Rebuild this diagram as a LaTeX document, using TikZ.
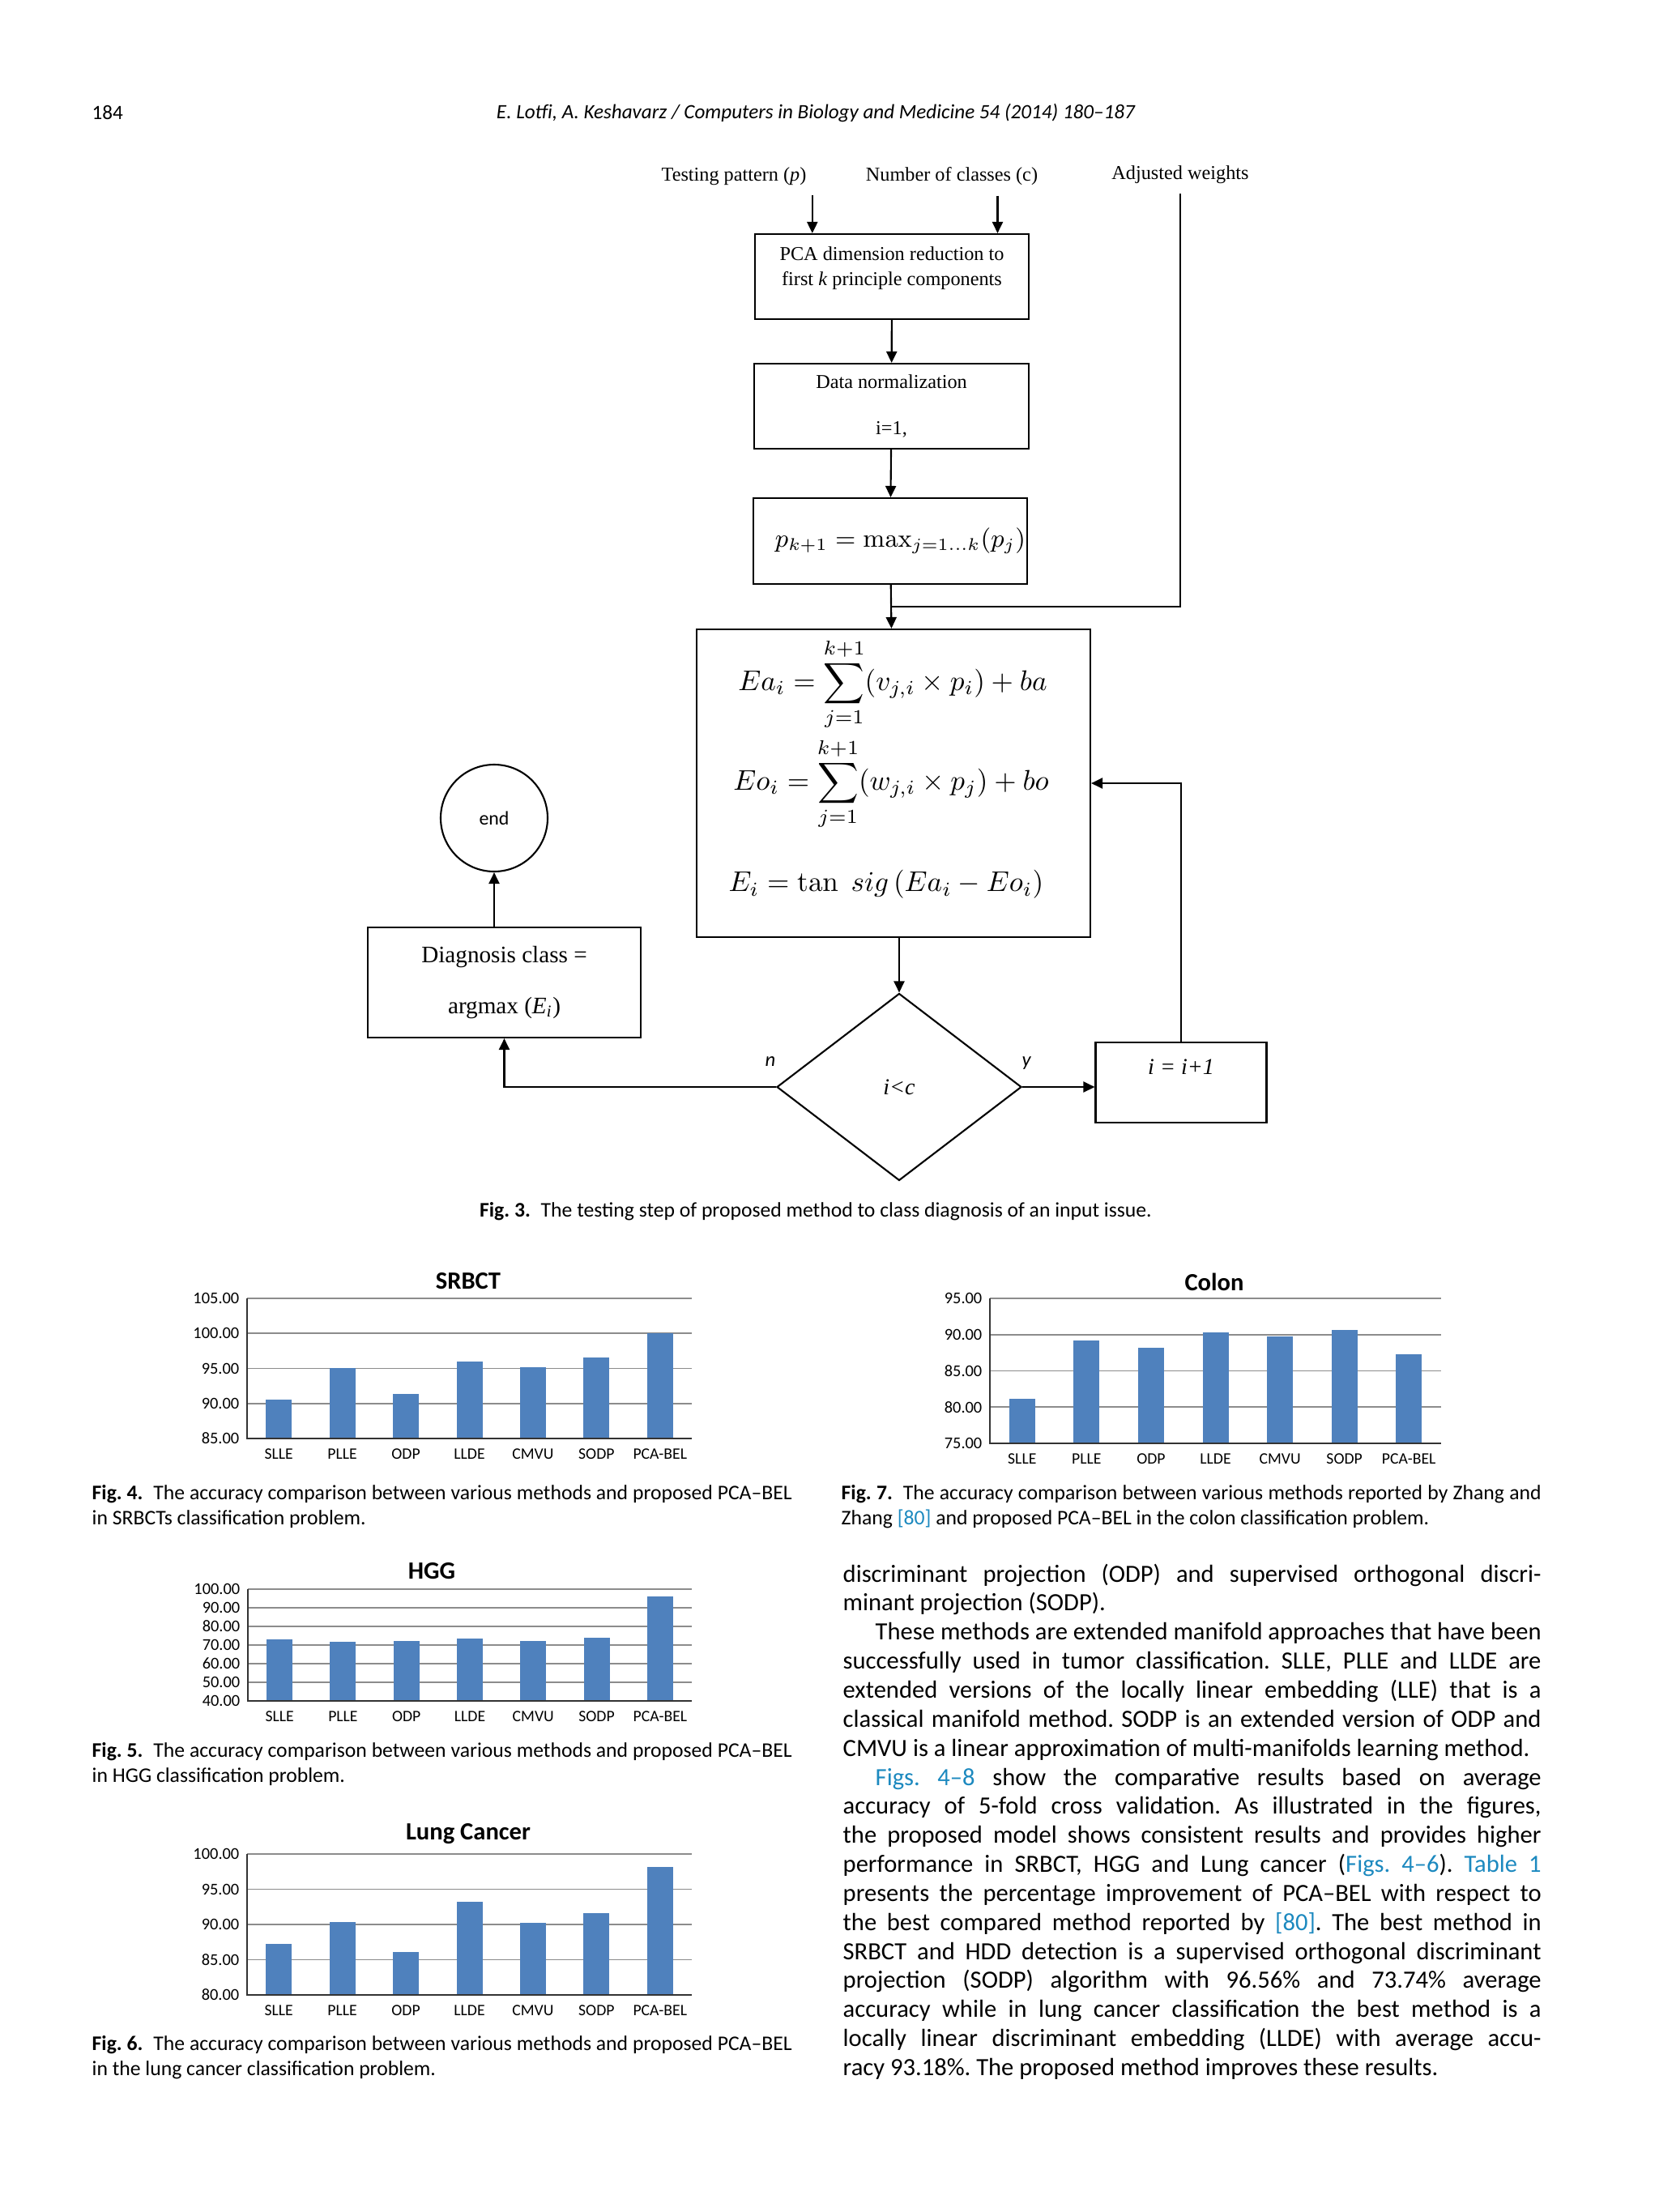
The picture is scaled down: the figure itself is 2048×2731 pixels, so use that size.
\documentclass[tikz,border=0pt]{standalone}
\usepackage[no-math]{fontspec}
\setmainfont{Carlito}
\newfontfamily\flowfont{Liberation Serif}
\usetikzlibrary{shapes.geometric,arrows.meta,calc}
\definecolor{barblue}{HTML}{4F81BD}
\definecolor{gridgray}{HTML}{8C8C8C}
\definecolor{linkblue}{HTML}{1C89BF}
\frenchspacing
\pgfkeys{/pgf/number format/.cd,fixed,fixed zerofill,precision=2,assume math mode=true}
\newcommand{\lnk}[1]{\textcolor{linkblue}{#1}}
\tikzset{
  hdr/.style={font=\fontsize{7.15}{8.6}\selectfont, inner sep=0pt},
  lbl/.style={font=\flowfont\fontsize{6.9}{9}\selectfont, align=center},
  procb/.style={draw, line width=0.6pt, align=center, inner sep=0pt,
    font=\flowfont\fontsize{6.9}{9}\selectfont},
  decb/.style={diamond, draw, line width=0.6pt, aspect=1.31, minimum width=30.2mm,
    minimum height=23.1mm, inner sep=0pt, font=\flowfont\itshape\fontsize{8}{9.6}\selectfont},
  termc/.style={circle, draw, line width=0.6pt, minimum size=13.2mm, inner sep=0pt,
    font=\fontsize{6.8}{8}\selectfont},
  eqn/.style={font=\fontsize{10}{12}\selectfont, inner sep=0pt},
  yn/.style={font=\itshape\fontsize{7}{8}\selectfont, inner sep=0pt},
  flow/.style={-{Triangle[length=1.4mm,width=1.3mm]}, line width=0.6pt},
  wire/.style={line width=0.6pt},
  ctitle/.style={font=\bfseries\fontsize{8.7}{10}\selectfont, inner sep=0pt},
  ticklab/.style={font=\fontsize{5.8}{7}\selectfont, anchor=east, inner sep=0pt},
  catlab/.style={font=\fontsize{5.6}{7}\selectfont, inner sep=0pt},
  gridln/.style={draw=gridgray, line width=0.5pt},
  axln/.style={draw=black!80, line width=0.6pt},
  barc/.style={fill=barblue},
  capt/.style={font=\fontsize{7.3}{8.8}\selectfont, text width=86.4mm, align=justify,
    inner sep=0pt, anchor=north west},
  bodyt/.style={font=\fontsize{8.7}{10.2}\selectfont, text width=86.2mm, align=justify,
    inner sep=0pt, anchor=north west},
}
% #1 left, #2 right, #3 top, #4 bottom, #5 min, #6 second tick, #7 max, #8 bar values
\newcommand{\accchart}[8]{%
  \pgfmathsetmacro{\ppu}{(#4-#3)/(#7-#5)}%
  \pgfmathsetmacro{\cw}{(#2-#1)/7}%
  \foreach \tv in {#5,#6,...,#7}{%
    \pgfmathsetmacro{\ty}{#4-(\tv-#5)*\ppu}%
    \draw[gridln] (#1,\ty) -- (#2,\ty);
    \node[ticklab] at (#1-9,\ty) {\pgfmathprintnumber{\tv}};
  }%
  \foreach \bv [count=\bk] in {#8}{%
    \pgfmathsetmacro{\bx}{#1+(\bk-0.5)*\cw}%
    \pgfmathsetmacro{\by}{#4-(\bv-#5)*\ppu}%
    \fill[barc] (\bx-16,#4) rectangle (\bx+16,\by);
  }%
  \draw[axln] (#1,#3) -- (#1,#4) -- (#2,#4);
  \foreach \mname [count=\bk] in {SLLE,PLLE,ODP,LLDE,CMVU,SODP,PCA-BEL}
    \node[catlab] at ({#1+(\bk-0.5)*\cw},{#4+19}) {\mname};
}

\begin{document}
\begin{tikzpicture}[x=0.1mm, y=-0.1mm]
  \useasboundingbox (0,0) rectangle (2048,2731);
  % running head
  \node[hdr, anchor=west] (pgno) at (113,139) {184};
  \node[hdr] (runhead) at (1007,139) {\itshape E. Lotfi, A. Keshavarz / Computers in Biology and Medicine 54 (2014) 180--187};
  % inputs
  \node[lbl] (tp) at (906,218) {Testing pattern (\textit{p})};
  \node[lbl] (nc) at (1175,218) {Number of classes (c)};
  \node[lbl] (aw) at (1457,216) {Adjusted weights};
  % steps
  \node[procb, minimum width=33.8mm, minimum height=10.5mm] (pca) at (1101,341.5)
    {PCA dimension reduction to\\first \textit{k} principle components\\[-0.6mm]\mbox{}};
  \node[procb, minimum width=33.9mm, minimum height=10.5mm] (dn) at (1100.5,501.5)
    {Data normalization\\[2.5mm]i=1,};
  \node[procb, minimum width=33.8mm, minimum height=10.6mm] (pmax) at (1099,668)
    {\hspace*{2.5mm}\fontsize{9.2}{11}\selectfont $p_{k+1} = \max\nolimits_{j=1\ldots k}(p_{j})$};
  \node[procb, minimum width=48.6mm, minimum height=38mm] (eqs) at (1103,967) {};
  \node[eqn] (ea) at (1102,845) {$\displaystyle Ea_{i} = \sum_{j=1}^{k+1}(v_{j,i}\times p_{i}) + ba$};
  \node[eqn] (eo) at (1100,968) {$\displaystyle Eo_{i} = \sum_{j=1}^{k+1}(w_{j,i}\times p_{j}) + bo$};
  \node[eqn] (ei) at (1094,1092) {$E_{i} = \tan\; sig\,(Ea_{i} - Eo_{i})$};
  \node[decb] (cond) at (1110,1342) {\raisebox{-0.5mm}{i<c}};
  \node[procb, minimum width=21.1mm, minimum height=9.9mm, font=\flowfont\itshape\fontsize{8}{9.6}\selectfont] (inc) at (1458,1336.5)
    {i = i+1\\[0.5mm]\mbox{}};
  \node[procb, minimum width=33.7mm, minimum height=13.6mm, font=\flowfont\fontsize{8.3}{10}\selectfont] (diag) at (622.5,1213)
    {Diagnosis class =\\[2.8mm]argmax (\textit{E}\textsubscript{\textit{i}})};
  \node[termc] (endc) at (610,1010) {end};
  \node[yn] (nlab) at ([xshift=-0.7mm,yshift=3.1mm]cond.west) {n};
  \node[yn] (ylab) at ([xshift=0.5mm,yshift=2.9mm]cond.east) {y};
  % connectors
  \draw[flow] ([xshift=-0.5mm]tp.south east) -- ([xshift=-0.5mm]tp.south east |- pca.north);
  \draw[flow] ([xshift=-6.2mm]nc.south east) -- ([xshift=-6.2mm]nc.south east |- pca.north);
  \draw[flow] (pca) -- (dn);
  \draw[flow] (dn) -- (pmax);
  \draw[flow] (pmax) -- (eqs);
  \coordinate (jw) at ($(pmax.south)!0.5!(eqs.north)$);
  \draw[wire] (aw.south) |- (jw);
  \draw[flow] (eqs.south -| cond.north) -- (cond.north);
  \draw[flow] (cond.west) -| (diag.south);
  \draw[flow] (cond.east) -- (cond.east -| inc.west);
  \draw[flow] (inc.north) |- (eqs.east);
  \draw[flow] (diag.north -| endc.south) -- (endc.south);
  \node[font=\fontsize{7.3}{8.8}\selectfont, inner sep=0pt] (cap3) at (1007,1496)
    {\textbf{Fig. 3.}\enspace The testing step of proposed method to class diagnosis of an input issue.};
  % charts
  \node[ctitle] (tsrbct) at (578,1582) {SRBCT};
  \accchart{305}{854}{1603}{1776}{85}{90}{105}{90.5,95.1,91.4,96.0,95.2,96.56,100.0}
  \node[ctitle] (tcolon) at (1499,1583) {Colon};
  \accchart{1222}{1779}{1603}{1782}{75}{80}{95}{81.2,89.2,88.2,90.3,89.7,90.7,87.3}
  \node[ctitle] (thgg) at (533,1940) {HGG};
  \accchart{306}{854}{1962}{2100}{40}{50}{100}{73.0,71.7,72.3,73.4,72.1,73.74,96.0}
  \node[ctitle] (tlung) at (578,2264) {Lung Cancer};
  \accchart{305}{854}{2289}{2463}{80}{85}{100}{87.2,90.4,86.1,93.18,90.2,91.6,98.2}
  % captions
  \node[capt] (cap4) at (113,1833) {\textbf{Fig. 4.}\enspace The accuracy comparison between various methods and proposed PCA--BEL\linebreak in SRBCTs classification problem.};
  \node[capt] (cap5) at (113,2151) {\textbf{Fig. 5.}\enspace The accuracy comparison between various methods and proposed PCA--BEL\linebreak in HGG classification problem.};
  \node[capt] (cap6) at (113,2513) {\textbf{Fig. 6.}\enspace The accuracy comparison between various methods and proposed PCA--BEL\linebreak in the lung cancer classification problem.};
  \node[capt] (cap7) at (1038,1833) {\textbf{Fig. 7.}\enspace The accuracy comparison between various methods reported by Zhang and\linebreak Zhang \lnk{[80]} and proposed PCA--BEL in the colon classification problem.};
  % body text
  \node[bodyt] (body) at (1040,1930) {%
    discriminant projection (ODP) and supervised orthogonal discri-\linebreak
    minant projection (SODP).\par
    \hspace*{4mm}These methods are extended manifold approaches that have been\linebreak
    successfully used in tumor classification. SLLE, PLLE and LLDE are\linebreak
    extended versions of the locally linear embedding (LLE) that is a\linebreak
    classical manifold method. SODP is an extended version of ODP and\linebreak
    CMVU is a linear approximation of multi-manifolds learning method.\par
    \hspace*{4mm}\lnk{Figs. 4--8} show the comparative results based on average\linebreak
    accuracy of 5-fold cross validation. As illustrated in the figures,\linebreak
    the proposed model shows consistent results and provides higher\linebreak
    performance in SRBCT, HGG and Lung cancer (\lnk{Figs. 4--6}). \lnk{Table 1}\linebreak
    presents the percentage improvement of PCA--BEL with respect to\linebreak
    the best compared method reported by \lnk{[80]}. The best method in\linebreak
    SRBCT and HDD detection is a supervised orthogonal discriminant\linebreak
    projection (SODP) algorithm with 96.56\% and 73.74\% average\linebreak
    accuracy while in lung cancer classification the best method is a\linebreak
    locally linear discriminant embedding (LLDE) with average accu-\linebreak
    racy 93.18\%. The proposed method improves these results.};
\end{tikzpicture}
\end{document}
